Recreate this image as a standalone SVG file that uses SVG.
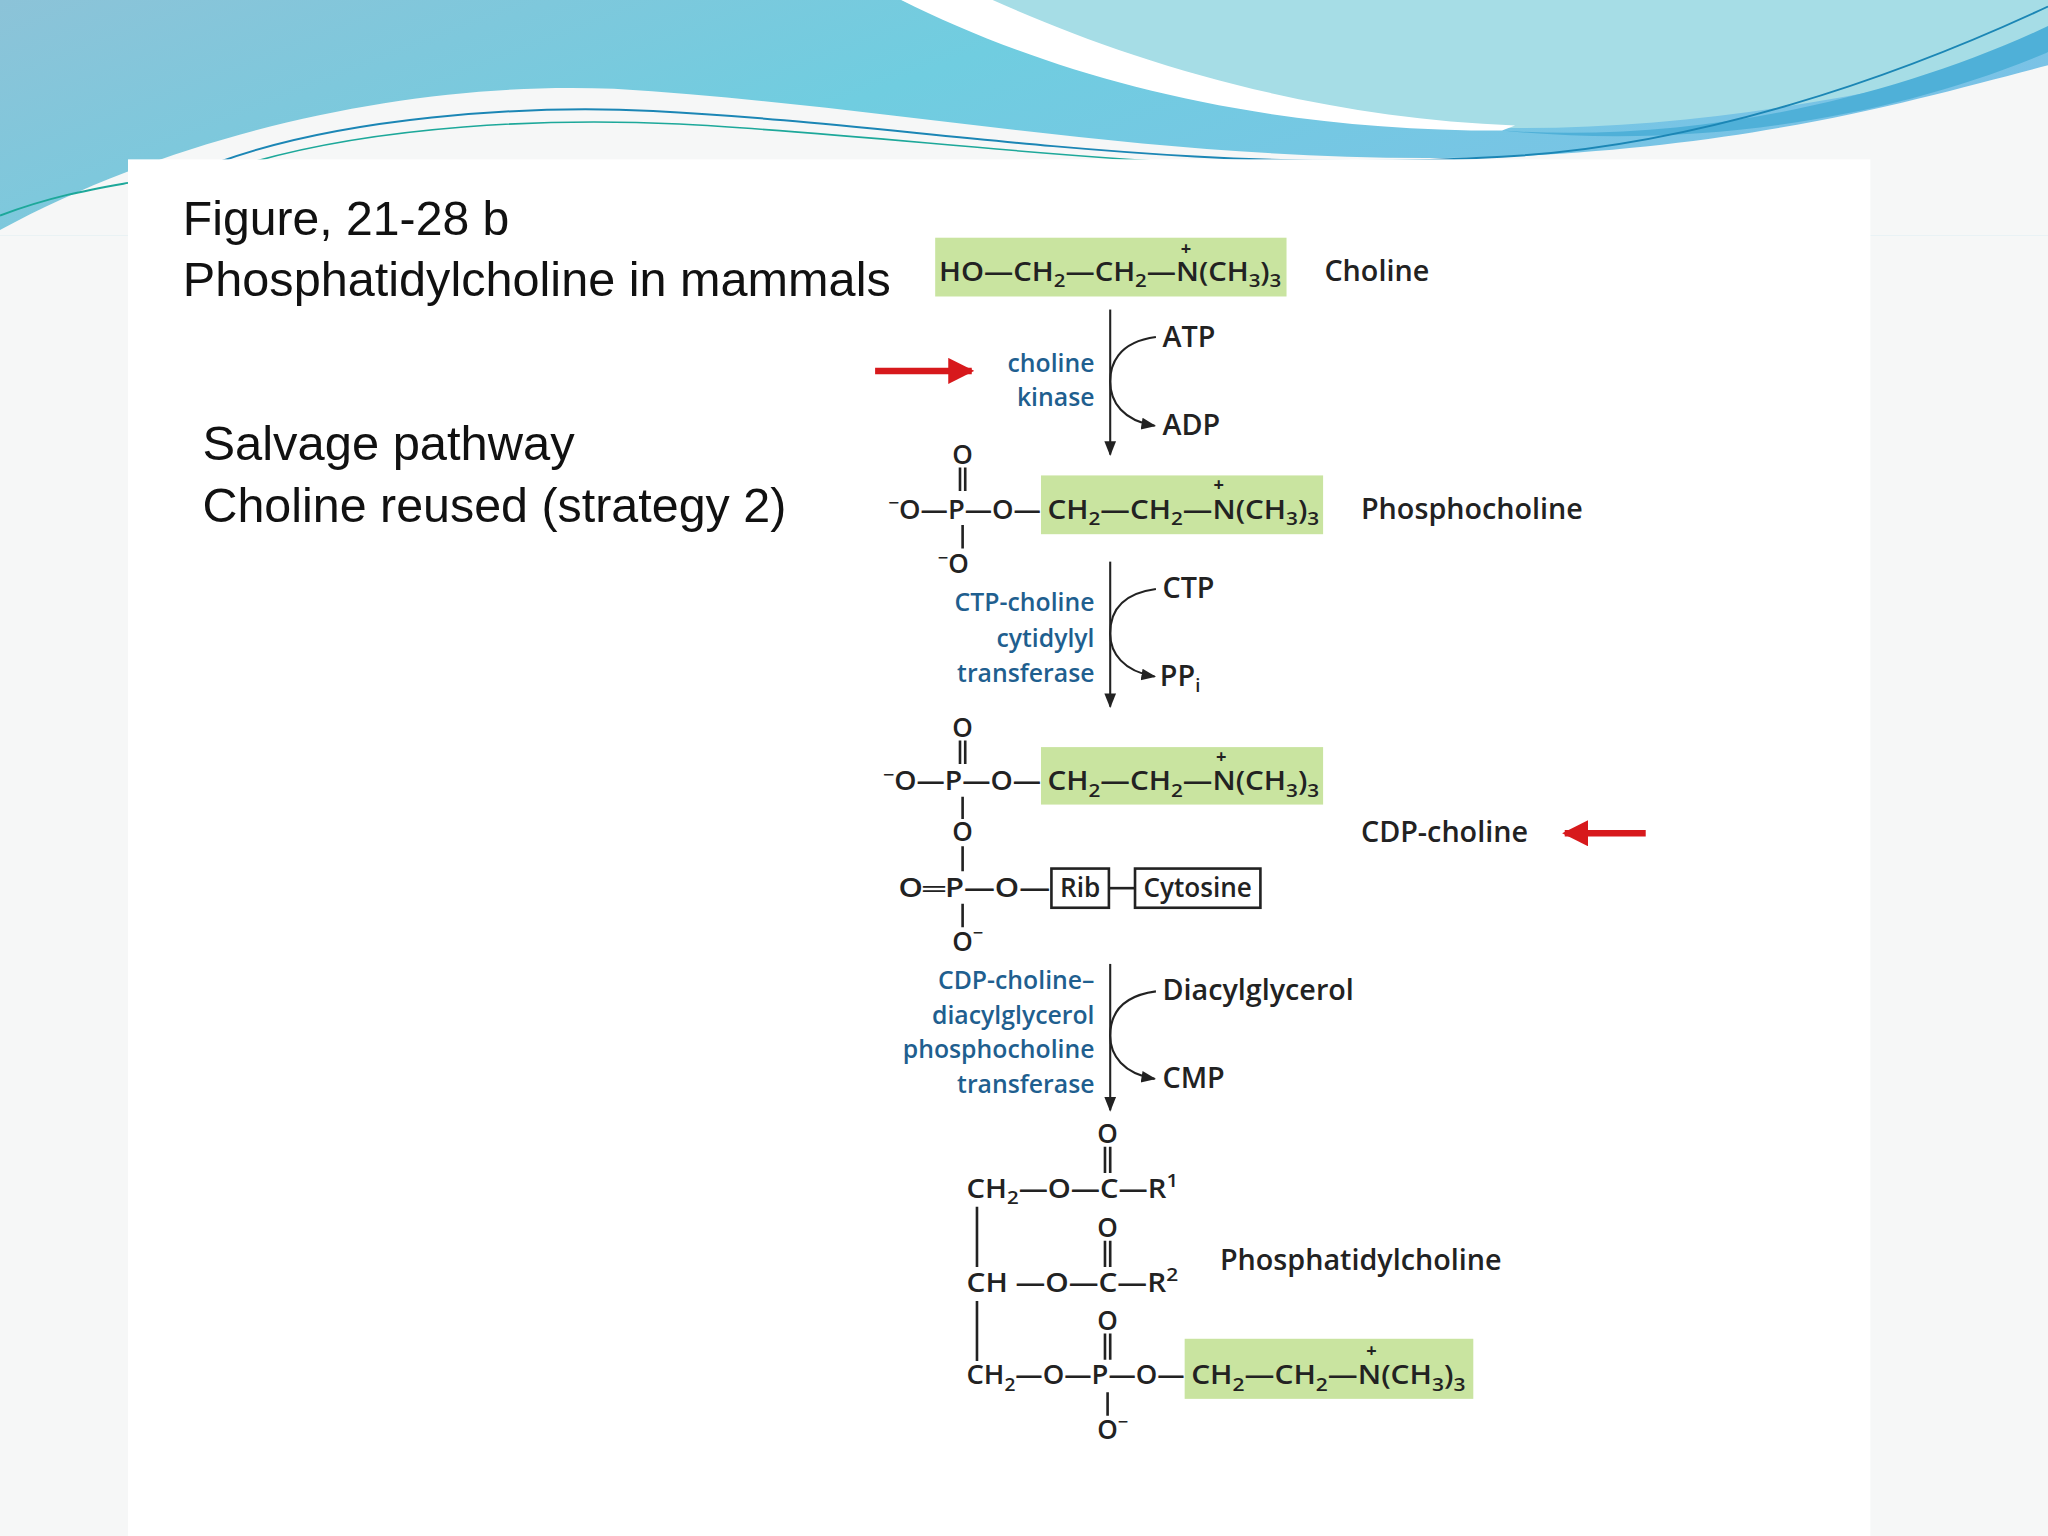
<svg xmlns="http://www.w3.org/2000/svg" width="2048" height="1536" viewBox="0 0 2048 1536">
<defs>
<linearGradient id="bg" x1="0" y1="0" x2="1" y2="0.3"><stop offset="0" stop-color="#8cc3d8"/><stop offset="0.5" stop-color="#70cde0"/><stop offset="1" stop-color="#7ac2e6"/></linearGradient>
<marker id="ah" viewBox="0 0 10 10" refX="9" refY="5" markerWidth="7" markerHeight="7" orient="auto"><path d="M0,1 L10,5 L0,9 Z" fill="#222"/></marker>
<marker id="rh" viewBox="0 0 10 10" refX="9" refY="5" markerWidth="4" markerHeight="4" orient="auto"><path d="M0,0 L10,5 L0,10 Z" fill="#d7191c"/></marker>
<style>
.t{font-family:"Liberation Sans",Arial,sans-serif;font-size:37px;fill:#111}
.c{font-family:"Open Sans","Noto Sans",sans-serif;font-weight:600;font-size:20px;fill:#222}
.n{font-family:"Open Sans","Noto Sans",sans-serif;font-weight:600;font-size:22px;fill:#222}
.e{font-family:"Open Sans","Noto Sans",sans-serif;font-weight:600;font-size:19px;fill:#1f5f8f;text-anchor:end}
.m{text-anchor:middle}
.g{fill:#c9e4a0}
.b{stroke:#222;stroke-width:2;fill:none}
.s{font-size:14px}
.p{font-size:14px;font-weight:700}
</style>
</defs>
<g transform="scale(1.306122)">
<g id="background">
<rect width="1568" height="1176" fill="#f6f7f7"/>
<rect width="1568" height="180" fill="url(#bg)"/>
<path d="M0,176 C150,95 330,62 470,68 C700,82 900,128 1150,120 C1350,112 1470,75 1568,50 L1568,180 L0,180 Z" fill="#f6f7f7"/>
<path d="M690,0 C800,50 950,95 1150,98 C1300,100 1450,70 1568,40 L1568,0 Z" fill="#a6dde6"/>
<path d="M690,0 C800,55 950,100 1150,100 L1160,96 C1000,90 860,45 760,0 Z" fill="#ffffff"/>
<path d="M1150,100 C1300,110 1450,75 1568,20 L1568,40 C1450,90 1300,115 1150,100 Z" fill="#4fb0d8"/>
<path d="M165,125 C260,90 400,80 500,85 C700,95 900,135 1150,120 C1300,112 1450,60 1568,5" style="stroke:#1b86b5;stroke-width:1.5;fill:none"/>
<path d="M190,125 C290,96 420,90 520,95 C720,105 920,140 1170,125" style="stroke:#1da89a;stroke-width:1.2;fill:none"/>
<path d="M0,165 C40,150 70,145 98,140" style="stroke:#1da89a;stroke-width:1.5;fill:none"/>
<rect x="98" y="122" width="1334" height="1054" fill="#ffffff"/>
</g>
<g id="titles">
<text class="t" x="140" y="180" textLength="250" lengthAdjust="spacingAndGlyphs">Figure, 21-28 b</text>
<text class="t" x="140" y="227" textLength="542" lengthAdjust="spacingAndGlyphs">Phosphatidylcholine in mammals</text>
<text class="t" x="155" y="352" textLength="285" lengthAdjust="spacingAndGlyphs">Salvage pathway</text>
<text class="t" x="155" y="400" textLength="447" lengthAdjust="spacingAndGlyphs">Choline reused (strategy 2)</text>
</g>
<g id="choline">
<rect class="g" x="716" y="182" width="269" height="45"/>
<text class="c" x="719" y="215" textLength="262" lengthAdjust="spacingAndGlyphs">HO—CH<tspan class="s" dy="5">2</tspan><tspan dy="-5">—CH</tspan><tspan class="s" dy="5">2</tspan><tspan dy="-5">—N(CH</tspan><tspan class="s" dy="5">3</tspan><tspan dy="-5">)</tspan><tspan class="s" dy="5">3</tspan></text>
<text class="c m p" x="908" y="195">+</text>
<text class="n" x="1014" y="215">Choline</text>
</g>
<g id="phosphocholine">
<rect class="g" x="797" y="364" width="216" height="45"/>
<text class="c m" x="737" y="355">O</text>
<text class="c" x="680" y="397" textLength="117" lengthAdjust="spacingAndGlyphs"><tspan class="s" dy="-7">−</tspan><tspan dy="7">O—P—O—</tspan></text>
<text class="c" x="802" y="397" textLength="208" lengthAdjust="spacingAndGlyphs">CH<tspan class="s" dy="5">2</tspan><tspan dy="-5">—CH</tspan><tspan class="s" dy="5">2</tspan><tspan dy="-5">—N(CH</tspan><tspan class="s" dy="5">3</tspan><tspan dy="-5">)</tspan><tspan class="s" dy="5">3</tspan></text>
<text class="c m p" x="933" y="376">+</text>
<text class="c" x="718" y="439"><tspan class="s" dy="-7">−</tspan><tspan dy="7">O</tspan></text>
<path class="b" d="M735,358 V376 M739,358 V376 M737,402 V420"/>
<text class="n" x="1042" y="397">Phosphocholine</text>
</g>
<g id="cdp-choline">
<rect class="g" x="797" y="572" width="216" height="44"/>
<text class="c m" x="737" y="564">O</text>
<text class="c" x="676" y="605" textLength="121" lengthAdjust="spacingAndGlyphs"><tspan class="s" dy="-7">−</tspan><tspan dy="7">O—P—O—</tspan></text>
<text class="c" x="802" y="605" textLength="208" lengthAdjust="spacingAndGlyphs">CH<tspan class="s" dy="5">2</tspan><tspan dy="-5">—CH</tspan><tspan class="s" dy="5">2</tspan><tspan dy="-5">—N(CH</tspan><tspan class="s" dy="5">3</tspan><tspan dy="-5">)</tspan><tspan class="s" dy="5">3</tspan></text>
<text class="c m p" x="935" y="584">+</text>
<text class="c m" x="737" y="644">O</text>
<text class="c" x="688" y="687" textLength="116" lengthAdjust="spacingAndGlyphs">O═P—O—</text>
<rect class="b" x="805" y="665" width="44" height="30"/>
<text class="c m" x="827" y="687">Rib</text>
<path class="b" d="M849,680 H869"/>
<rect class="b" x="869" y="665" width="96" height="30"/>
<text class="c m" x="917" y="687">Cytosine</text>
<text class="c" x="729" y="728">O<tspan class="s" dy="-9">−</tspan></text>
<path class="b" d="M735,567 V585 M739,567 V585 M737,610 V627 M737,648 V667 M737,692 V710"/>
<text class="n" x="1042" y="645">CDP-choline</text>
</g>
<g id="phosphatidylcholine">
<rect class="g" x="907" y="1025" width="221" height="46"/>
<text class="c m" x="848" y="875">O</text>
<text class="c" x="740" y="917" textLength="162" lengthAdjust="spacingAndGlyphs">CH<tspan class="s" dy="5">2</tspan><tspan dy="-5">—O—C—R</tspan><tspan class="s" dy="-8">1</tspan></text>
<text class="c m" x="848" y="947">O</text>
<text class="c" x="740" y="989" textLength="162" lengthAdjust="spacingAndGlyphs">CH —O—C—R<tspan class="s" dy="-8">2</tspan></text>
<text class="c m" x="848" y="1018">O</text>
<text class="c" x="740" y="1060" textLength="167" lengthAdjust="spacingAndGlyphs">CH<tspan class="s" dy="5">2</tspan><tspan dy="-5">—O—P—O—</tspan></text>
<text class="c" x="912" y="1060" textLength="210" lengthAdjust="spacingAndGlyphs">CH<tspan class="s" dy="5">2</tspan><tspan dy="-5">—CH</tspan><tspan class="s" dy="5">2</tspan><tspan dy="-5">—N(CH</tspan><tspan class="s" dy="5">3</tspan><tspan dy="-5">)</tspan><tspan class="s" dy="5">3</tspan></text>
<text class="c m p" x="1050" y="1039">+</text>
<text class="c" x="840" y="1102">O<tspan class="s" dy="-9">−</tspan></text>
<path class="b" d="M846,878 V898 M850,878 V898 M846,950 V970 M850,950 V970 M846,1021 V1041 M850,1021 V1041 M848,1066 V1084 M748,924 V970 M748,996 V1042"/>
<text class="n" x="934" y="972">Phosphatidylcholine</text>
</g>
<g id="connectors">
<path class="b" d="M850,237 V348" marker-end="url(#ah)" style="stroke-width:1.6"/>
<path class="b" d="M885,258 C855,262 850,280 850,292 C850,308 860,322 884,326" marker-end="url(#ah)" style="stroke-width:1.6"/>
<path class="b" d="M850,430 V541" marker-end="url(#ah)" style="stroke-width:1.6"/>
<path class="b" d="M885,451 C855,455 850,472 850,485 C850,500 860,514 884,518" marker-end="url(#ah)" style="stroke-width:1.6"/>
<path class="b" d="M850,738 V850" marker-end="url(#ah)" style="stroke-width:1.6"/>
<path class="b" d="M885,759 C855,763 850,780 850,793 C850,808 860,822 884,826" marker-end="url(#ah)" style="stroke-width:1.6"/>
<path d="M670,284 H744" stroke="#d7191c" stroke-width="5" marker-end="url(#rh)"/>
<path d="M1260,638 H1198" stroke="#d7191c" stroke-width="5" marker-end="url(#rh)"/>
</g>
<g id="labels">
<text class="n" x="890" y="266">ATP</text>
<text class="n" x="890" y="333">ADP</text>
<text class="e" x="838" y="285">choline</text>
<text class="e" x="838" y="311">kinase</text>
<text class="n" x="890" y="458">CTP</text>
<text class="n" x="888" y="525">PP<tspan class="s" dy="5">i</tspan></text>
<text class="e" x="838" y="468">CTP-choline</text>
<text class="e" x="838" y="495">cytidylyl</text>
<text class="e" x="838" y="522">transferase</text>
<text class="n" x="890" y="766">Diacylglycerol</text>
<text class="n" x="890" y="833">CMP</text>
<text class="e" x="838" y="757">CDP-choline–</text>
<text class="e" x="838" y="784">diacylglycerol</text>
<text class="e" x="838" y="810">phosphocholine</text>
<text class="e" x="838" y="837">transferase</text>
</g>
</g>
</svg>
